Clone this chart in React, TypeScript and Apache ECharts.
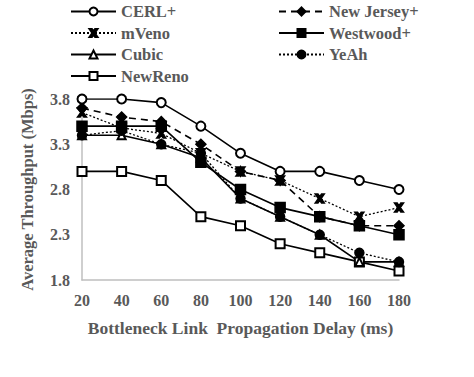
import React, { useEffect, useRef } from "react";
import * as echarts from "echarts";

const delays = ["20", "40", "60", "80", "100", "120", "140", "160", "180"];
const yTicks = [1.8, 2.3, 2.8, 3.3, 3.8];

const cerl = [3.8, 3.8, 3.76, 3.5, 3.2, 3.0, 3.0, 2.9, 2.8];
const newJersey = [3.7, 3.6, 3.55, 3.3, 3.0, 2.9, 2.5, 2.4, 2.4];
const mVeno = [3.65, 3.48, 3.42, 3.2, 3.0, 2.9, 2.7, 2.5, 2.6];
const westwood = [3.5, 3.5, 3.5, 3.1, 2.8, 2.6, 2.5, 2.4, 2.3];
const cubic = [3.4, 3.4, 3.3, 3.15, 2.7, 2.5, 2.3, 2.0, 2.0];
const yeah = [3.4, 3.45, 3.3, 3.2, 2.7, 2.5, 2.3, 2.1, 2.0];
const newReno = [3.0, 3.0, 2.9, 2.5, 2.4, 2.2, 2.1, 2.0, 1.9];

const FONT = "'Liberation Serif', 'Times New Roman', serif";
const GRAY = "#595959";
const XMARK =
  "path://M0,0 L3,0 L5,3 L7,0 L10,0 L6.5,5 L10,10 L7,10 L5,7 L3,10 L0,10 L3.5,5 Z";

function mk(name: string, data: number[], symbol: string, size: number, dash: any, width = 1.6) {
  return {
    name,
    type: "line",
    data,
    symbol,
    symbolSize: size,
    showAllSymbol: true,
    lineStyle: { color: "#000", width, type: dash },
    itemStyle: { color: "#000", borderColor: "#000", borderWidth: 1.5 },
    emphasis: { disabled: true },
  };
}

export default function App() {
  const ref = useRef<HTMLDivElement>(null);
  useEffect(() => {
    if (!ref.current) return;
    const chart = echarts.init(ref.current, undefined, { renderer: "svg" });
    const legendText = { fontFamily: FONT, fontWeight: "bold", fontSize: 16.5, color: GRAY };
    chart.setOption({
      animation: false,
      backgroundColor: "#fff",
      legend: [
        {
          orient: "vertical",
          left: 70,
          top: 3,
          padding: 0,
          itemWidth: 45,
          itemHeight: 10,
          itemGap: 4.5,
          textStyle: legendText,
          data: ["CERL+", "mVeno", "Cubic", "NewReno"],
        },
        {
          orient: "vertical",
          left: 278,
          top: 3,
          padding: 0,
          itemWidth: 45,
          itemHeight: 10,
          itemGap: 4.5,
          textStyle: legendText,
          data: ["New Jersey+", "Westwood+", "YeAh"],
        },
      ],
      grid: { left: 82, right: 75, top: 99, bottom: 97, containLabel: false },
      xAxis: {
        type: "category",
        data: delays,
        boundaryGap: false,
        name: "Bottleneck Link  Propagation Delay (ms)",
        nameLocation: "middle",
        nameGap: 39,
        nameTextStyle: { fontFamily: FONT, fontWeight: "bold", fontSize: 17.5, color: GRAY },
        axisLine: { lineStyle: { color: "#bfbfbf", width: 1.5 } },
        axisTick: { show: false },
        axisLabel: { fontFamily: FONT, fontWeight: "bold", fontSize: 16, color: GRAY, margin: 12 },
        splitLine: { show: false },
      },
      yAxis: {
        type: "value",
        min: 1.8,
        max: 3.8,
        name: "Average Throughput (Mbps)",
        nameLocation: "middle",
        nameGap: 46,
        nameTextStyle: { fontFamily: FONT, fontWeight: "bold", fontSize: 16.5, color: GRAY },
        axisLine: { show: true, lineStyle: { color: "#bfbfbf", width: 1.5 } },
        axisTick: { show: false },
        axisLabel: {
          fontFamily: FONT,
          fontWeight: "bold",
          fontSize: 16,
          color: GRAY,
          margin: 12,
          customValues: yTicks,
          formatter: (v: number) => v.toFixed(1),
        },
        splitLine: { show: false },
      },
      series: [
        mk("NewReno", newReno, "emptyRect", 9, "solid"),
        mk("Cubic", cubic, "emptyTriangle", 8, "solid"),
        mk("YeAh", yeah, "circle", 9, [2, 2], 1.3),
        mk("Westwood+", westwood, "rect", 10, "solid"),
        mk("mVeno", mVeno, XMARK, 9, [2, 2], 1.3),
        mk("New Jersey+", newJersey, "diamond", 10, [7, 5]),
        mk("CERL+", cerl, "emptyCircle", 9, "solid"),
      ],
    });
    return () => chart.dispose();
  }, []);
  return (
    <div
      ref={ref}
      style={{ position: "absolute", left: 0, top: 0, width: 474, height: 377, background: "#fff" }}
    />
  );
}
